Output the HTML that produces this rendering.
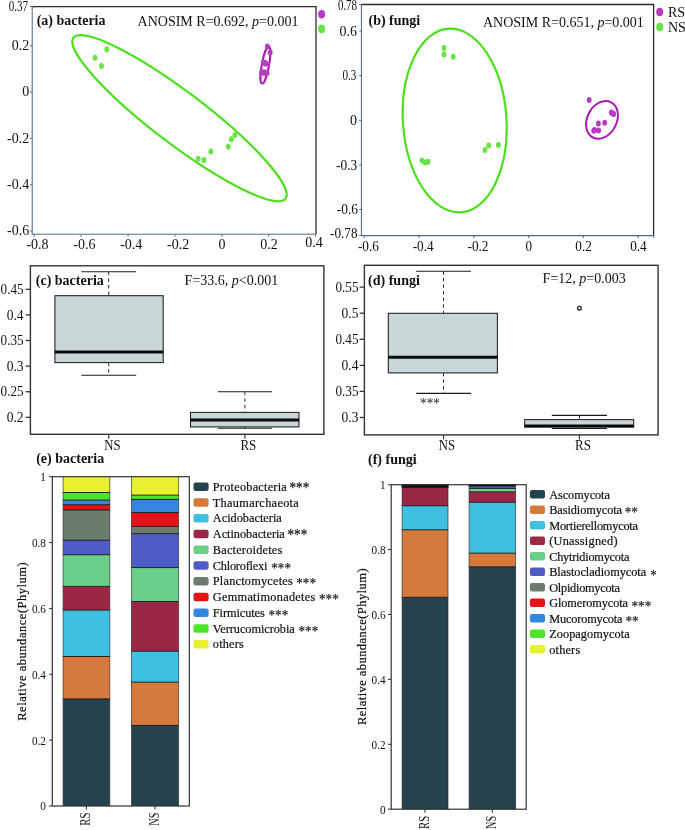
<!DOCTYPE html>
<html lang="en">
<head>
<meta charset="utf-8">
<title>Figure: bacterial and fungal community structure</title>
<style>
html,body{margin:0;padding:0;background:#fff;}
body{width:685px;height:830px;overflow:hidden;}
svg{display:block;font-family:'Liberation Serif', 'DejaVu Serif', serif;}
svg text{font-family:'Liberation Serif', 'DejaVu Serif', serif;}
svg text.hv{stroke:#111;stroke-width:0.2px;}
svg text.md{stroke:#111;stroke-width:0.1px;}
</style>
</head>
<body>
<svg width="685" height="830" viewBox="0 0 685 830">
<rect x="0" y="0" width="685" height="830" fill="#ffffff"/>
<line x1="32.20" y1="6.60" x2="316.60" y2="6.60" stroke="#2b2b2b" stroke-width="1.3" />
<line x1="316.00" y1="6.60" x2="316.00" y2="234.20" stroke="#2b2b2b" stroke-width="1.3" />
<line x1="32.20" y1="6.10" x2="32.20" y2="234.70" stroke="#506a8a" stroke-width="1.05" />
<line x1="32.20" y1="234.20" x2="316.00" y2="234.20" stroke="#506a8a" stroke-width="1.0" />
<line x1="30.00" y1="45.80" x2="32.20" y2="45.80" stroke="#506a8a" stroke-width="1" />
<text x="29.20" y="49.90" font-size="14" text-anchor="end" fill="#111" >0.2</text>
<line x1="30.00" y1="92.10" x2="32.20" y2="92.10" stroke="#506a8a" stroke-width="1" />
<text x="29.20" y="96.20" font-size="14" text-anchor="end" fill="#111" >0</text>
<line x1="30.00" y1="138.40" x2="32.20" y2="138.40" stroke="#506a8a" stroke-width="1" />
<text x="29.20" y="142.50" font-size="14" text-anchor="end" fill="#111" >-0.2</text>
<line x1="30.00" y1="184.70" x2="32.20" y2="184.70" stroke="#506a8a" stroke-width="1" />
<text x="29.20" y="188.80" font-size="14" text-anchor="end" fill="#111" >-0.4</text>
<line x1="30.00" y1="231.00" x2="32.20" y2="231.00" stroke="#506a8a" stroke-width="1" />
<text x="29.20" y="235.10" font-size="14" text-anchor="end" fill="#111" >-0.6</text>
<line x1="30.00" y1="6.60" x2="32.20" y2="6.60" stroke="#506a8a" stroke-width="1" />
<text x="28.20" y="11.00" font-size="14" text-anchor="end" fill="#111" textLength="19.50" lengthAdjust="spacingAndGlyphs" >0.37</text>
<line x1="34.30" y1="234.20" x2="34.30" y2="236.70" stroke="#506a8a" stroke-width="1" />
<text x="37.50" y="248.60" font-size="14" text-anchor="middle" fill="#111" >-0.8</text>
<line x1="81.18" y1="234.20" x2="81.18" y2="236.70" stroke="#506a8a" stroke-width="1" />
<text x="84.38" y="248.60" font-size="14" text-anchor="middle" fill="#111" >-0.6</text>
<line x1="128.06" y1="234.20" x2="128.06" y2="236.70" stroke="#506a8a" stroke-width="1" />
<text x="131.26" y="248.60" font-size="14" text-anchor="middle" fill="#111" >-0.4</text>
<line x1="174.94" y1="234.20" x2="174.94" y2="236.70" stroke="#506a8a" stroke-width="1" />
<text x="178.14" y="248.60" font-size="14" text-anchor="middle" fill="#111" >-0.2</text>
<line x1="221.82" y1="234.20" x2="221.82" y2="236.70" stroke="#506a8a" stroke-width="1" />
<text x="222.12" y="248.60" font-size="14" text-anchor="middle" fill="#111" >0</text>
<line x1="268.70" y1="234.20" x2="268.70" y2="236.70" stroke="#506a8a" stroke-width="1" />
<text x="269.00" y="248.60" font-size="14" text-anchor="middle" fill="#111" >0.2</text>
<line x1="315.58" y1="234.20" x2="315.58" y2="236.70" stroke="#506a8a" stroke-width="1" />
<text x="314.00" y="247.10" font-size="14" text-anchor="middle" fill="#111" >0.4</text>
<text x="36.70" y="25.30" font-size="14" font-weight="bold" fill="#111" >(a) bacteria</text>
<text x="137.6" y="26.1" font-size="14" fill="#111">ANOSIM R=0.692, <tspan font-style="italic">p</tspan>=0.001</text>
<ellipse cx="179.5" cy="118.2" rx="133.1" ry="26.0" transform="rotate(37.2 179.5 118.2)" fill="none" stroke="#4ce01c" stroke-width="2.2"/>
<ellipse cx="95" cy="57.8" rx="2.45" ry="3.0" fill="#69e346"/>
<ellipse cx="106.8" cy="49.5" rx="2.45" ry="3.0" fill="#69e346"/>
<ellipse cx="101.5" cy="66.1" rx="2.45" ry="3.0" fill="#69e346"/>
<ellipse cx="198.2" cy="158.7" rx="2.45" ry="3.0" fill="#69e346"/>
<ellipse cx="204" cy="160" rx="2.45" ry="3.0" fill="#69e346"/>
<ellipse cx="210.9" cy="151.5" rx="2.45" ry="3.0" fill="#69e346"/>
<ellipse cx="228.2" cy="146.7" rx="2.45" ry="3.0" fill="#69e346"/>
<ellipse cx="231.4" cy="139.2" rx="2.45" ry="3.0" fill="#69e346"/>
<ellipse cx="234.9" cy="135.0" rx="2.45" ry="3.0" fill="#69e346"/>
<ellipse cx="265.4" cy="65.1" rx="18.8" ry="3.6" transform="rotate(-79.7 265.4 65.1)" fill="none" stroke="#aa1ab2" stroke-width="2"/>
<ellipse cx="267.4" cy="46.6" rx="2.45" ry="3.0" fill="#b83cc1"/>
<ellipse cx="270.2" cy="52.6" rx="2.45" ry="3.0" fill="#b83cc1"/>
<ellipse cx="263.6" cy="62.4" rx="2.45" ry="3.0" fill="#b83cc1"/>
<ellipse cx="265.8" cy="63.7" rx="2.45" ry="3.0" fill="#b83cc1"/>
<ellipse cx="261.5" cy="72.5" rx="2.45" ry="3.0" fill="#b83cc1"/>
<ellipse cx="264.1" cy="72.9" rx="2.45" ry="3.0" fill="#b83cc1"/>
<ellipse cx="267.1" cy="72.9" rx="2.45" ry="3.0" fill="#b83cc1"/>
<ellipse cx="264.0" cy="72.3" rx="2.45" ry="3.0" fill="#b83cc1"/>
<ellipse cx="265.2" cy="63.0" rx="2.45" ry="3.0" fill="#b83cc1"/>
<ellipse cx="321.6" cy="14.2" rx="3.5" ry="4.3" fill="#b83cc1"/>
<ellipse cx="321.6" cy="28.9" rx="3.5" ry="4.3" fill="#69e346"/>
<line x1="361.40" y1="4.50" x2="654.20" y2="4.50" stroke="#2b2b2b" stroke-width="1.3" />
<line x1="653.60" y1="4.50" x2="653.60" y2="235.60" stroke="#2b2b2b" stroke-width="1.3" />
<line x1="361.40" y1="4.00" x2="361.40" y2="236.10" stroke="#506a8a" stroke-width="1.05" />
<line x1="361.40" y1="235.70" x2="653.60" y2="235.70" stroke="#506a8a" stroke-width="1.2" />
<line x1="359.20" y1="31.02" x2="361.40" y2="31.02" stroke="#506a8a" stroke-width="1" />
<text x="357.10" y="35.62" font-size="14" text-anchor="end" fill="#111" >0.6</text>
<line x1="359.20" y1="75.66" x2="361.40" y2="75.66" stroke="#506a8a" stroke-width="1" />
<text x="356.30" y="80.26" font-size="14" text-anchor="end" fill="#111" textLength="13.90" lengthAdjust="spacingAndGlyphs" >0.3</text>
<line x1="359.20" y1="120.30" x2="361.40" y2="120.30" stroke="#506a8a" stroke-width="1" />
<text x="357.10" y="124.90" font-size="14" text-anchor="end" fill="#111" >0</text>
<line x1="359.20" y1="164.94" x2="361.40" y2="164.94" stroke="#506a8a" stroke-width="1" />
<text x="357.20" y="169.54" font-size="14" text-anchor="end" fill="#111" textLength="21.20" lengthAdjust="spacingAndGlyphs" >-0.3</text>
<line x1="359.20" y1="209.58" x2="361.40" y2="209.58" stroke="#506a8a" stroke-width="1" />
<text x="358.00" y="214.18" font-size="14" text-anchor="end" fill="#111" textLength="21.30" lengthAdjust="spacingAndGlyphs" >-0.6</text>
<line x1="359.20" y1="4.50" x2="361.40" y2="4.50" stroke="#506a8a" stroke-width="1" />
<text x="357.10" y="9.60" font-size="14" text-anchor="end" fill="#111" textLength="19.20" lengthAdjust="spacingAndGlyphs" >0.78</text>
<line x1="359.20" y1="235.60" x2="361.40" y2="235.60" stroke="#506a8a" stroke-width="1" />
<text x="357.50" y="238.30" font-size="14" text-anchor="end" fill="#111" textLength="27.40" lengthAdjust="spacingAndGlyphs" >-0.78</text>
<line x1="364.20" y1="235.60" x2="364.20" y2="238.10" stroke="#506a8a" stroke-width="1" />
<text x="368.40" y="250.50" font-size="14" text-anchor="middle" fill="#111" textLength="21.00" lengthAdjust="spacingAndGlyphs" >-0.6</text>
<line x1="419.00" y1="235.60" x2="419.00" y2="238.10" stroke="#506a8a" stroke-width="1" />
<text x="423.20" y="250.50" font-size="14" text-anchor="middle" fill="#111" textLength="21.00" lengthAdjust="spacingAndGlyphs" >-0.4</text>
<line x1="473.80" y1="235.60" x2="473.80" y2="238.10" stroke="#506a8a" stroke-width="1" />
<text x="478.00" y="250.50" font-size="14" text-anchor="middle" fill="#111" textLength="21.00" lengthAdjust="spacingAndGlyphs" >-0.2</text>
<line x1="528.60" y1="235.60" x2="528.60" y2="238.10" stroke="#506a8a" stroke-width="1" />
<text x="528.80" y="250.50" font-size="14" text-anchor="middle" fill="#111" textLength="6.60" lengthAdjust="spacingAndGlyphs" >0</text>
<line x1="583.40" y1="235.60" x2="583.40" y2="238.10" stroke="#506a8a" stroke-width="1" />
<text x="583.60" y="250.50" font-size="14" text-anchor="middle" fill="#111" textLength="16.50" lengthAdjust="spacingAndGlyphs" >0.2</text>
<line x1="638.20" y1="235.60" x2="638.20" y2="238.10" stroke="#506a8a" stroke-width="1" />
<text x="638.40" y="250.50" font-size="14" text-anchor="middle" fill="#111" textLength="16.50" lengthAdjust="spacingAndGlyphs" >0.4</text>
<line x1="653.60" y1="235.60" x2="653.60" y2="238.10" stroke="#506a8a" stroke-width="1" />
<text x="368.50" y="24.80" font-size="14" font-weight="bold" fill="#111" >(b) fungi</text>
<text x="483" y="27" font-size="14" fill="#111">ANOSIM R=0.651, <tspan font-style="italic">p</tspan>=0.001</text>
<ellipse cx="454.7" cy="120.5" rx="51.8" ry="92" transform="rotate(-3.9 454.7 120.5)" fill="none" stroke="#4ce01c" stroke-width="2.2"/>
<ellipse cx="444" cy="48.1" rx="2.45" ry="3.0" fill="#69e346"/>
<ellipse cx="444" cy="54.4" rx="2.45" ry="3.0" fill="#69e346"/>
<ellipse cx="453.2" cy="56.8" rx="2.45" ry="3.0" fill="#69e346"/>
<ellipse cx="422" cy="160.5" rx="2.45" ry="3.0" fill="#69e346"/>
<ellipse cx="425.1" cy="162.6" rx="2.45" ry="3.0" fill="#69e346"/>
<ellipse cx="428" cy="161.8" rx="2.45" ry="3.0" fill="#69e346"/>
<ellipse cx="485" cy="150" rx="2.45" ry="3.0" fill="#69e346"/>
<ellipse cx="488.7" cy="145.5" rx="2.45" ry="3.0" fill="#69e346"/>
<ellipse cx="498.4" cy="145" rx="2.45" ry="3.0" fill="#69e346"/>
<ellipse cx="602.0" cy="119.9" rx="19.8" ry="14.7" transform="rotate(-62.8 602.0 119.9)" fill="none" stroke="#aa1ab2" stroke-width="2"/>
<ellipse cx="589.2" cy="100.0" rx="2.45" ry="3.0" fill="#b83cc1"/>
<ellipse cx="611.4" cy="112.4" rx="2.45" ry="3.0" fill="#b83cc1"/>
<ellipse cx="613.7" cy="114.1" rx="2.45" ry="3.0" fill="#b83cc1"/>
<ellipse cx="598.4" cy="123.6" rx="2.45" ry="3.0" fill="#b83cc1"/>
<ellipse cx="604.7" cy="122.8" rx="2.45" ry="3.0" fill="#b83cc1"/>
<ellipse cx="593.8" cy="130.7" rx="2.45" ry="3.0" fill="#b83cc1"/>
<ellipse cx="598.6" cy="130.5" rx="2.45" ry="3.0" fill="#b83cc1"/>
<ellipse cx="594.6" cy="130.0" rx="2.45" ry="3.0" fill="#b83cc1"/>
<ellipse cx="612.6" cy="113.4" rx="2.45" ry="3.0" fill="#b83cc1"/>
<ellipse cx="659.7" cy="12.0" rx="3.5" ry="4.3" fill="#b83cc1"/>
<ellipse cx="659.7" cy="27.1" rx="3.5" ry="4.3" fill="#69e346"/>
<text x="667.90" y="17.00" font-size="14" fill="#111" >RS</text>
<text x="667.90" y="31.80" font-size="14" fill="#111" >NS</text>
<rect x="30.4" y="265.8" width="293.50" height="168.50" fill="none" stroke="#333" stroke-width="1.4"/>
<line x1="25.60" y1="289.30" x2="30.40" y2="289.30" stroke="#333" stroke-width="1.3" />
<text x="23.60" y="293.90" font-size="14.2" text-anchor="end" fill="#111" textLength="23.00" lengthAdjust="spacingAndGlyphs" >0.45</text>
<line x1="25.60" y1="314.90" x2="30.40" y2="314.90" stroke="#333" stroke-width="1.3" />
<text x="23.60" y="319.50" font-size="14.2" text-anchor="end" fill="#111" textLength="16.90" lengthAdjust="spacingAndGlyphs" >0.4</text>
<line x1="25.60" y1="340.50" x2="30.40" y2="340.50" stroke="#333" stroke-width="1.3" />
<text x="23.60" y="345.10" font-size="14.2" text-anchor="end" fill="#111" textLength="23.00" lengthAdjust="spacingAndGlyphs" >0.35</text>
<line x1="25.60" y1="366.10" x2="30.40" y2="366.10" stroke="#333" stroke-width="1.3" />
<text x="23.60" y="370.70" font-size="14.2" text-anchor="end" fill="#111" textLength="16.90" lengthAdjust="spacingAndGlyphs" >0.3</text>
<line x1="25.60" y1="391.70" x2="30.40" y2="391.70" stroke="#333" stroke-width="1.3" />
<text x="23.60" y="396.30" font-size="14.2" text-anchor="end" fill="#111" textLength="23.00" lengthAdjust="spacingAndGlyphs" >0.25</text>
<line x1="25.60" y1="417.30" x2="30.40" y2="417.30" stroke="#333" stroke-width="1.3" />
<text x="23.60" y="421.90" font-size="14.2" text-anchor="end" fill="#111" textLength="16.90" lengthAdjust="spacingAndGlyphs" >0.2</text>
<line x1="108.70" y1="271.80" x2="108.70" y2="295.70" stroke="#2b2b2b" stroke-width="1" stroke-dasharray="3.4 3.2"/>
<line x1="108.70" y1="362.60" x2="108.70" y2="375.20" stroke="#2b2b2b" stroke-width="1" stroke-dasharray="3.4 3.2"/>
<line x1="81.30" y1="271.80" x2="136.20" y2="271.80" stroke="#1c1c1c" stroke-width="1.1" />
<line x1="81.30" y1="375.20" x2="136.20" y2="375.20" stroke="#1c1c1c" stroke-width="1.1" />
<rect x="54.9" y="295.7" width="108.30" height="66.90" fill="#c9d6d8" stroke="#1c1c1c" stroke-width="1.05"/>
<line x1="54.90" y1="351.90" x2="163.20" y2="351.90" stroke="#0a0a0a" stroke-width="3" />
<line x1="108.70" y1="434.30" x2="108.70" y2="438.80" stroke="#2b2b2b" stroke-width="1.1" />
<line x1="244.90" y1="391.80" x2="244.90" y2="412.40" stroke="#2b2b2b" stroke-width="1" stroke-dasharray="3.4 3.2"/>
<line x1="244.90" y1="426.90" x2="244.90" y2="428.30" stroke="#2b2b2b" stroke-width="1" stroke-dasharray="3.4 3.2"/>
<line x1="217.80" y1="391.80" x2="272.00" y2="391.80" stroke="#1c1c1c" stroke-width="1.1" />
<line x1="217.80" y1="428.30" x2="272.00" y2="428.30" stroke="#1c1c1c" stroke-width="1.1" />
<rect x="190.5" y="412.4" width="108.50" height="14.50" fill="#c9d6d8" stroke="#1c1c1c" stroke-width="1.05"/>
<line x1="190.50" y1="420.10" x2="299.00" y2="420.10" stroke="#0a0a0a" stroke-width="3" />
<line x1="244.90" y1="434.30" x2="244.90" y2="438.80" stroke="#2b2b2b" stroke-width="1.1" />
<text x="35.80" y="284.90" font-size="14" font-weight="bold" fill="#111" >(c) bacteria</text>
<text x="184.6" y="284.6" font-size="14" fill="#111">F=33.6, <tspan font-style="italic">p</tspan>&lt;0.001</text>
<text x="104.30" y="449.80" font-size="14" fill="#111" textLength="16.30" lengthAdjust="spacingAndGlyphs" >NS</text>
<text x="240.40" y="449.80" font-size="14" fill="#111" textLength="15.90" lengthAdjust="spacingAndGlyphs" >RS</text>
<rect x="364.4" y="265.3" width="293.70" height="169.60" fill="none" stroke="#333" stroke-width="1.4"/>
<line x1="359.60" y1="287.10" x2="364.40" y2="287.10" stroke="#333" stroke-width="1.3" />
<text x="358.50" y="291.70" font-size="14.2" text-anchor="end" fill="#111" textLength="23.00" lengthAdjust="spacingAndGlyphs" >0.55</text>
<line x1="359.60" y1="313.20" x2="364.40" y2="313.20" stroke="#333" stroke-width="1.3" />
<text x="358.50" y="317.80" font-size="14.2" text-anchor="end" fill="#111" textLength="16.90" lengthAdjust="spacingAndGlyphs" >0.5</text>
<line x1="359.60" y1="339.30" x2="364.40" y2="339.30" stroke="#333" stroke-width="1.3" />
<text x="358.50" y="343.90" font-size="14.2" text-anchor="end" fill="#111" textLength="23.00" lengthAdjust="spacingAndGlyphs" >0.45</text>
<line x1="359.60" y1="365.40" x2="364.40" y2="365.40" stroke="#333" stroke-width="1.3" />
<text x="358.50" y="370.00" font-size="14.2" text-anchor="end" fill="#111" textLength="16.90" lengthAdjust="spacingAndGlyphs" >0.4</text>
<line x1="359.60" y1="391.40" x2="364.40" y2="391.40" stroke="#333" stroke-width="1.3" />
<text x="358.50" y="396.00" font-size="14.2" text-anchor="end" fill="#111" textLength="23.00" lengthAdjust="spacingAndGlyphs" >0.35</text>
<line x1="359.60" y1="417.50" x2="364.40" y2="417.50" stroke="#333" stroke-width="1.3" />
<text x="358.50" y="422.10" font-size="14.2" text-anchor="end" fill="#111" textLength="16.90" lengthAdjust="spacingAndGlyphs" >0.3</text>
<line x1="443.50" y1="271.30" x2="443.50" y2="313.30" stroke="#2b2b2b" stroke-width="1" stroke-dasharray="3.4 3.2"/>
<line x1="443.50" y1="372.90" x2="443.50" y2="393.40" stroke="#2b2b2b" stroke-width="1" stroke-dasharray="3.4 3.2"/>
<line x1="416.20" y1="271.30" x2="471.10" y2="271.30" stroke="#1c1c1c" stroke-width="1.1" />
<line x1="416.20" y1="393.40" x2="471.10" y2="393.40" stroke="#1c1c1c" stroke-width="1.1" />
<rect x="388.3" y="313.3" width="109.10" height="59.60" fill="#c9d6d8" stroke="#1c1c1c" stroke-width="1.05"/>
<line x1="388.30" y1="357.20" x2="497.40" y2="357.20" stroke="#0a0a0a" stroke-width="3" />
<line x1="443.50" y1="434.90" x2="443.50" y2="439.40" stroke="#2b2b2b" stroke-width="1.1" />
<line x1="579.40" y1="415.40" x2="579.40" y2="419.60" stroke="#2b2b2b" stroke-width="1" stroke-dasharray="3.4 3.2"/>
<line x1="579.40" y1="427.20" x2="579.40" y2="428.50" stroke="#2b2b2b" stroke-width="1" stroke-dasharray="3.4 3.2"/>
<line x1="551.80" y1="415.40" x2="607.00" y2="415.40" stroke="#1c1c1c" stroke-width="1.1" />
<line x1="551.80" y1="428.50" x2="607.00" y2="428.50" stroke="#1c1c1c" stroke-width="1.1" />
<rect x="524.7" y="419.6" width="109.00" height="7.60" fill="#c9d6d8" stroke="#1c1c1c" stroke-width="1.05"/>
<line x1="524.70" y1="425.70" x2="633.70" y2="425.70" stroke="#0a0a0a" stroke-width="2.5" />
<line x1="579.40" y1="434.90" x2="579.40" y2="439.40" stroke="#2b2b2b" stroke-width="1.1" />
<text x="368.10" y="285.00" font-size="14" font-weight="bold" fill="#111" >(d) fungi</text>
<text x="542.6" y="282.9" font-size="14" fill="#111">F=12, <tspan font-style="italic">p</tspan>=0.003</text>
<text x="438.80" y="450.10" font-size="14" fill="#111" textLength="16.20" lengthAdjust="spacingAndGlyphs" >NS</text>
<text x="575.00" y="450.10" font-size="14" fill="#111" textLength="15.90" lengthAdjust="spacingAndGlyphs" >RS</text>
<circle cx="579.4" cy="308.3" r="1.9" fill="none" stroke="#1c1c1c" stroke-width="1.25"/>
<text x="420.10" y="407.50" font-size="14" fill="#111" textLength="19.70" lengthAdjust="spacingAndGlyphs" >***</text>
<rect x="63.1" y="698.98" width="46.70" height="107.02" fill="#25434f"/>
<rect x="63.1" y="656.50" width="46.70" height="42.48" fill="#d5793d"/>
<rect x="63.1" y="610.07" width="46.70" height="46.43" fill="#3ec1e0"/>
<rect x="63.1" y="586.36" width="46.70" height="23.71" fill="#9b2747"/>
<rect x="63.1" y="554.74" width="46.70" height="31.61" fill="#6bcf8a"/>
<rect x="63.1" y="540.25" width="46.70" height="14.49" fill="#4f5bc6"/>
<rect x="63.1" y="509.96" width="46.70" height="30.30" fill="#6b7b6c"/>
<rect x="63.1" y="504.69" width="46.70" height="5.27" fill="#e41318"/>
<rect x="63.1" y="500.08" width="46.70" height="4.61" fill="#3586de"/>
<rect x="63.1" y="492.51" width="46.70" height="7.57" fill="#4be428"/>
<rect x="63.1" y="476.70" width="46.70" height="15.81" fill="#e9f02f"/>
<line x1="62.80" y1="698.98" x2="110.10" y2="698.98" stroke="#121212" stroke-width="0.9" />
<line x1="62.80" y1="656.50" x2="110.10" y2="656.50" stroke="#121212" stroke-width="0.9" />
<line x1="62.80" y1="610.07" x2="110.10" y2="610.07" stroke="#121212" stroke-width="0.9" />
<line x1="62.80" y1="586.36" x2="110.10" y2="586.36" stroke="#121212" stroke-width="0.9" />
<line x1="62.80" y1="554.74" x2="110.10" y2="554.74" stroke="#121212" stroke-width="0.9" />
<line x1="62.80" y1="540.25" x2="110.10" y2="540.25" stroke="#121212" stroke-width="0.9" />
<line x1="62.80" y1="509.96" x2="110.10" y2="509.96" stroke="#121212" stroke-width="0.9" />
<line x1="62.80" y1="504.69" x2="110.10" y2="504.69" stroke="#121212" stroke-width="0.9" />
<line x1="62.80" y1="500.08" x2="110.10" y2="500.08" stroke="#121212" stroke-width="0.9" />
<line x1="62.80" y1="492.51" x2="110.10" y2="492.51" stroke="#121212" stroke-width="0.9" />
<line x1="63.10" y1="476.70" x2="63.10" y2="806.00" stroke="#2a2a2a" stroke-width="0.65" />
<line x1="109.80" y1="476.70" x2="109.80" y2="806.00" stroke="#2a2a2a" stroke-width="0.65" />
<rect x="131.5" y="725.45" width="47.10" height="80.55" fill="#25434f"/>
<rect x="131.5" y="682.18" width="47.10" height="43.27" fill="#d5793d"/>
<rect x="131.5" y="651.23" width="47.10" height="30.95" fill="#3ec1e0"/>
<rect x="131.5" y="601.50" width="47.10" height="49.72" fill="#9b2747"/>
<rect x="131.5" y="567.59" width="47.10" height="33.92" fill="#6bcf8a"/>
<rect x="131.5" y="533.67" width="47.10" height="33.92" fill="#4f5bc6"/>
<rect x="131.5" y="526.42" width="47.10" height="7.24" fill="#6b7b6c"/>
<rect x="131.5" y="512.59" width="47.10" height="13.83" fill="#e41318"/>
<rect x="131.5" y="499.42" width="47.10" height="13.17" fill="#3586de"/>
<rect x="131.5" y="495.14" width="47.10" height="4.28" fill="#4be428"/>
<rect x="131.5" y="476.70" width="47.10" height="18.44" fill="#e9f02f"/>
<line x1="131.20" y1="725.45" x2="178.90" y2="725.45" stroke="#121212" stroke-width="0.9" />
<line x1="131.20" y1="682.18" x2="178.90" y2="682.18" stroke="#121212" stroke-width="0.9" />
<line x1="131.20" y1="651.23" x2="178.90" y2="651.23" stroke="#121212" stroke-width="0.9" />
<line x1="131.20" y1="601.50" x2="178.90" y2="601.50" stroke="#121212" stroke-width="0.9" />
<line x1="131.20" y1="567.59" x2="178.90" y2="567.59" stroke="#121212" stroke-width="0.9" />
<line x1="131.20" y1="533.67" x2="178.90" y2="533.67" stroke="#121212" stroke-width="0.9" />
<line x1="131.20" y1="526.42" x2="178.90" y2="526.42" stroke="#121212" stroke-width="0.9" />
<line x1="131.20" y1="512.59" x2="178.90" y2="512.59" stroke="#121212" stroke-width="0.9" />
<line x1="131.20" y1="499.42" x2="178.90" y2="499.42" stroke="#121212" stroke-width="0.9" />
<line x1="131.20" y1="495.14" x2="178.90" y2="495.14" stroke="#121212" stroke-width="0.9" />
<line x1="131.50" y1="476.70" x2="131.50" y2="806.00" stroke="#2a2a2a" stroke-width="0.65" />
<line x1="178.60" y1="476.70" x2="178.60" y2="806.00" stroke="#2a2a2a" stroke-width="0.65" />
<rect x="52.3" y="476.7" width="137.00" height="329.30" fill="none" stroke="#2b2b2b" stroke-width="1.15"/>
<line x1="49.10" y1="806.00" x2="52.30" y2="806.00" stroke="#2b2b2b" stroke-width="1" />
<text x="45.90" y="810.40" font-size="13.5" text-anchor="end" fill="#111" textLength="5.60" lengthAdjust="spacingAndGlyphs" >0</text>
<line x1="49.10" y1="740.14" x2="52.30" y2="740.14" stroke="#2b2b2b" stroke-width="1" />
<text x="45.90" y="744.54" font-size="13.5" text-anchor="end" fill="#111" textLength="14.00" lengthAdjust="spacingAndGlyphs" >0.2</text>
<line x1="49.10" y1="674.28" x2="52.30" y2="674.28" stroke="#2b2b2b" stroke-width="1" />
<text x="45.90" y="678.68" font-size="13.5" text-anchor="end" fill="#111" textLength="14.00" lengthAdjust="spacingAndGlyphs" >0.4</text>
<line x1="49.10" y1="608.42" x2="52.30" y2="608.42" stroke="#2b2b2b" stroke-width="1" />
<text x="45.90" y="612.82" font-size="13.5" text-anchor="end" fill="#111" textLength="14.00" lengthAdjust="spacingAndGlyphs" >0.6</text>
<line x1="49.10" y1="542.56" x2="52.30" y2="542.56" stroke="#2b2b2b" stroke-width="1" />
<text x="45.90" y="546.96" font-size="13.5" text-anchor="end" fill="#111" textLength="14.00" lengthAdjust="spacingAndGlyphs" >0.8</text>
<line x1="49.10" y1="476.70" x2="52.30" y2="476.70" stroke="#2b2b2b" stroke-width="1" />
<text x="45.90" y="481.10" font-size="13.5" text-anchor="end" fill="#111" textLength="5.60" lengthAdjust="spacingAndGlyphs" >1</text>
<text x="36.20" y="462.70" font-size="14" font-weight="bold" fill="#111" >(e) bacteria</text>
<text x="25.7" y="641.5" font-size="12.5" fill="#111" class="hv" text-anchor="middle" textLength="158.5" lengthAdjust="spacing" transform="rotate(-90 25.7 641.5)">Relative abundance(Phylum)</text>
<rect x="193.5" y="482.50" width="15.1" height="8.4" rx="2.2" ry="2.2" fill="#25434f"/>
<text x="212.80" y="490.80" font-size="12.3" fill="#111" class="hv" textLength="74" lengthAdjust="spacing">Proteobacteria</text>
<text x="289.5" y="492.97" font-size="16.7" fill="#111" class="hv" textLength="19.7" lengthAdjust="spacingAndGlyphs">***</text>
<rect x="193.5" y="498.26" width="15.1" height="8.4" rx="2.2" ry="2.2" fill="#d5793d"/>
<text x="212.80" y="506.56" font-size="12.3" fill="#111" class="hv" textLength="86" lengthAdjust="spacing">Thaumarchaeota</text>
<rect x="193.5" y="514.02" width="15.1" height="8.4" rx="2.2" ry="2.2" fill="#3ec1e0"/>
<text x="212.80" y="522.32" font-size="12.3" fill="#111" class="hv" textLength="69" lengthAdjust="spacing">Acidobacteria</text>
<rect x="193.5" y="529.78" width="15.1" height="8.4" rx="2.2" ry="2.2" fill="#9b2747"/>
<text x="212.80" y="538.08" font-size="12.3" fill="#111" class="hv" textLength="72" lengthAdjust="spacing">Actinobacteria</text>
<text x="287.5" y="540.25" font-size="16.7" fill="#111" class="hv" textLength="19.7" lengthAdjust="spacingAndGlyphs">***</text>
<rect x="193.5" y="545.54" width="15.1" height="8.4" rx="2.2" ry="2.2" fill="#6bcf8a"/>
<text x="212.80" y="553.84" font-size="12.3" fill="#111" class="hv" textLength="69.5" lengthAdjust="spacing">Bacteroidetes</text>
<rect x="193.5" y="561.30" width="15.1" height="8.4" rx="2.2" ry="2.2" fill="#4f5bc6"/>
<text x="212.80" y="569.60" font-size="12.3" fill="#111" class="hv" textLength="54.5" lengthAdjust="spacing">Chloroflexi</text>
<text x="271.3" y="572.50" font-size="15" fill="#111" class="hv" textLength="19.7" lengthAdjust="spacingAndGlyphs">***</text>
<rect x="193.5" y="577.06" width="15.1" height="8.4" rx="2.2" ry="2.2" fill="#6b7b6c"/>
<text x="212.80" y="585.36" font-size="12.3" fill="#111" class="hv" textLength="80" lengthAdjust="spacing">Planctomycetes</text>
<text x="296.3" y="588.26" font-size="15" fill="#111" class="hv" textLength="19.7" lengthAdjust="spacingAndGlyphs">***</text>
<rect x="193.5" y="592.82" width="15.1" height="8.4" rx="2.2" ry="2.2" fill="#e41318"/>
<text x="212.80" y="601.12" font-size="12.3" fill="#111" class="hv" textLength="102.5" lengthAdjust="spacing">Gemmatimonadetes</text>
<text x="319.0" y="604.02" font-size="15" fill="#111" class="hv" textLength="19.7" lengthAdjust="spacingAndGlyphs">***</text>
<rect x="193.5" y="608.58" width="15.1" height="8.4" rx="2.2" ry="2.2" fill="#3586de"/>
<text x="212.80" y="616.88" font-size="12.3" fill="#111" class="hv" textLength="52" lengthAdjust="spacing">Firmicutes</text>
<text x="268.5" y="619.78" font-size="15" fill="#111" class="hv" textLength="19.7" lengthAdjust="spacingAndGlyphs">***</text>
<rect x="193.5" y="624.34" width="15.1" height="8.4" rx="2.2" ry="2.2" fill="#4be428"/>
<text x="212.80" y="632.64" font-size="12.3" fill="#111" class="hv" textLength="82" lengthAdjust="spacing">Verrucomicrobia</text>
<text x="298.5" y="635.54" font-size="15" fill="#111" class="hv" textLength="19.7" lengthAdjust="spacingAndGlyphs">***</text>
<rect x="193.5" y="640.10" width="15.1" height="8.4" rx="2.2" ry="2.2" fill="#e9f02f"/>
<text x="212.80" y="648.40" font-size="12.3" fill="#111" class="hv" textLength="31" lengthAdjust="spacing">others</text>
<line x1="86.40" y1="806.00" x2="86.40" y2="809.60" stroke="#2b2b2b" stroke-width="1" />
<text x="90.00" y="825.70" font-size="13.9" fill="#111" textLength="13.1" lengthAdjust="spacingAndGlyphs" transform="rotate(-90 90.00 825.70)">RS</text>
<line x1="155.00" y1="806.00" x2="155.00" y2="809.60" stroke="#2b2b2b" stroke-width="1" />
<text x="158.60" y="825.70" font-size="13.9" fill="#111" textLength="13.1" lengthAdjust="spacingAndGlyphs" transform="rotate(-90 158.60 825.70)">NS</text>
<rect x="402.1" y="597.30" width="45.90" height="211.90" fill="#25434f"/>
<rect x="402.1" y="529.81" width="45.90" height="67.50" fill="#d5793d"/>
<rect x="402.1" y="505.79" width="45.90" height="24.01" fill="#3ec1e0"/>
<rect x="402.1" y="487.46" width="45.90" height="18.33" fill="#9b2747"/>
<rect x="402.1" y="486.97" width="45.90" height="0.49" fill="#6bcf8a"/>
<rect x="402.1" y="486.65" width="45.90" height="0.32" fill="#4f5bc6"/>
<rect x="402.1" y="486.32" width="45.90" height="0.32" fill="#6b7b6c"/>
<rect x="402.1" y="485.67" width="45.90" height="0.65" fill="#e41318"/>
<rect x="402.1" y="485.35" width="45.90" height="0.32" fill="#3586de"/>
<rect x="402.1" y="485.02" width="45.90" height="0.32" fill="#4be428"/>
<rect x="402.1" y="484.70" width="45.90" height="0.32" fill="#e9f02f"/>
<line x1="401.80" y1="597.30" x2="448.30" y2="597.30" stroke="#121212" stroke-width="0.9" />
<line x1="401.80" y1="529.81" x2="448.30" y2="529.81" stroke="#121212" stroke-width="0.9" />
<line x1="401.80" y1="505.79" x2="448.30" y2="505.79" stroke="#121212" stroke-width="0.9" />
<line x1="401.80" y1="487.46" x2="448.30" y2="487.46" stroke="#121212" stroke-width="0.9" />
<line x1="401.80" y1="486.97" x2="448.30" y2="486.97" stroke="#121212" stroke-width="0.9" />
<line x1="401.80" y1="486.65" x2="448.30" y2="486.65" stroke="#121212" stroke-width="0.9" />
<line x1="401.80" y1="486.32" x2="448.30" y2="486.32" stroke="#121212" stroke-width="0.9" />
<line x1="401.80" y1="485.67" x2="448.30" y2="485.67" stroke="#121212" stroke-width="0.9" />
<line x1="401.80" y1="485.35" x2="448.30" y2="485.35" stroke="#121212" stroke-width="0.9" />
<line x1="401.80" y1="485.02" x2="448.30" y2="485.02" stroke="#121212" stroke-width="0.9" />
<line x1="402.10" y1="484.70" x2="402.10" y2="809.20" stroke="#2a2a2a" stroke-width="0.65" />
<line x1="448.00" y1="484.70" x2="448.00" y2="809.20" stroke="#2a2a2a" stroke-width="0.65" />
<rect x="469.1" y="566.80" width="46.50" height="242.40" fill="#25434f"/>
<rect x="469.1" y="553.17" width="46.50" height="13.63" fill="#d5793d"/>
<rect x="469.1" y="502.22" width="46.50" height="50.95" fill="#3ec1e0"/>
<rect x="469.1" y="491.84" width="46.50" height="10.38" fill="#9b2747"/>
<rect x="469.1" y="488.43" width="46.50" height="3.41" fill="#6bcf8a"/>
<rect x="469.1" y="485.84" width="46.50" height="2.60" fill="#4f5bc6"/>
<rect x="469.1" y="485.67" width="46.50" height="0.16" fill="#6b7b6c"/>
<rect x="469.1" y="485.35" width="46.50" height="0.32" fill="#e41318"/>
<rect x="469.1" y="485.19" width="46.50" height="0.16" fill="#3586de"/>
<rect x="469.1" y="485.02" width="46.50" height="0.16" fill="#4be428"/>
<rect x="469.1" y="484.70" width="46.50" height="0.32" fill="#e9f02f"/>
<line x1="468.80" y1="566.80" x2="515.90" y2="566.80" stroke="#121212" stroke-width="0.9" />
<line x1="468.80" y1="553.17" x2="515.90" y2="553.17" stroke="#121212" stroke-width="0.9" />
<line x1="468.80" y1="502.22" x2="515.90" y2="502.22" stroke="#121212" stroke-width="0.9" />
<line x1="468.80" y1="491.84" x2="515.90" y2="491.84" stroke="#121212" stroke-width="0.9" />
<line x1="468.80" y1="488.43" x2="515.90" y2="488.43" stroke="#121212" stroke-width="0.9" />
<line x1="468.80" y1="485.84" x2="515.90" y2="485.84" stroke="#121212" stroke-width="0.9" />
<line x1="468.80" y1="485.67" x2="515.90" y2="485.67" stroke="#121212" stroke-width="0.9" />
<line x1="468.80" y1="485.35" x2="515.90" y2="485.35" stroke="#121212" stroke-width="0.9" />
<line x1="468.80" y1="485.19" x2="515.90" y2="485.19" stroke="#121212" stroke-width="0.9" />
<line x1="468.80" y1="485.02" x2="515.90" y2="485.02" stroke="#121212" stroke-width="0.9" />
<line x1="469.10" y1="484.70" x2="469.10" y2="809.20" stroke="#2a2a2a" stroke-width="0.65" />
<line x1="515.60" y1="484.70" x2="515.60" y2="809.20" stroke="#2a2a2a" stroke-width="0.65" />
<rect x="391.2" y="484.7" width="135.00" height="324.50" fill="none" stroke="#2b2b2b" stroke-width="1.15"/>
<line x1="388.00" y1="809.20" x2="391.20" y2="809.20" stroke="#2b2b2b" stroke-width="1" />
<text x="385.60" y="813.60" font-size="13.5" text-anchor="end" fill="#111" textLength="5.60" lengthAdjust="spacingAndGlyphs" >0</text>
<line x1="388.00" y1="744.30" x2="391.20" y2="744.30" stroke="#2b2b2b" stroke-width="1" />
<text x="385.60" y="748.70" font-size="13.5" text-anchor="end" fill="#111" textLength="14.00" lengthAdjust="spacingAndGlyphs" >0.2</text>
<line x1="388.00" y1="679.40" x2="391.20" y2="679.40" stroke="#2b2b2b" stroke-width="1" />
<text x="385.60" y="683.80" font-size="13.5" text-anchor="end" fill="#111" textLength="14.00" lengthAdjust="spacingAndGlyphs" >0.4</text>
<line x1="388.00" y1="614.50" x2="391.20" y2="614.50" stroke="#2b2b2b" stroke-width="1" />
<text x="385.60" y="618.90" font-size="13.5" text-anchor="end" fill="#111" textLength="14.00" lengthAdjust="spacingAndGlyphs" >0.6</text>
<line x1="388.00" y1="549.60" x2="391.20" y2="549.60" stroke="#2b2b2b" stroke-width="1" />
<text x="385.60" y="554.00" font-size="13.5" text-anchor="end" fill="#111" textLength="14.00" lengthAdjust="spacingAndGlyphs" >0.8</text>
<line x1="388.00" y1="484.70" x2="391.20" y2="484.70" stroke="#2b2b2b" stroke-width="1" />
<text x="385.60" y="489.10" font-size="13.5" text-anchor="end" fill="#111" textLength="5.60" lengthAdjust="spacingAndGlyphs" >1</text>
<text x="368.00" y="463.50" font-size="14" font-weight="bold" fill="#111" >(f) fungi</text>
<text x="366.5" y="646.7" font-size="12.5" fill="#111" class="hv" text-anchor="middle" textLength="156.5" lengthAdjust="spacing" transform="rotate(-90 366.5 646.7)">Relative abundance(Phylum)</text>
<rect x="529.9" y="490.10" width="15.1" height="8.4" rx="2.2" ry="2.2" fill="#25434f"/>
<text x="549.20" y="498.65" font-size="12.3" fill="#111" class="hv" textLength="60.7" lengthAdjust="spacing">Ascomycota</text>
<rect x="529.9" y="505.60" width="15.1" height="8.4" rx="2.2" ry="2.2" fill="#d5793d"/>
<text x="549.20" y="514.15" font-size="12.3" fill="#111" class="hv" textLength="72.8" lengthAdjust="spacing">Basidiomycota</text>
<text x="624.7" y="517.10" font-size="15" fill="#111" class="hv" textLength="13.2" lengthAdjust="spacingAndGlyphs">**</text>
<rect x="529.9" y="521.10" width="15.1" height="8.4" rx="2.2" ry="2.2" fill="#3ec1e0"/>
<text x="549.20" y="529.65" font-size="12.3" fill="#111" class="hv" textLength="88.8" lengthAdjust="spacing">Mortierellomycota</text>
<rect x="529.9" y="536.60" width="15.1" height="8.4" rx="2.2" ry="2.2" fill="#9b2747"/>
<text x="549.20" y="545.15" font-size="12.3" fill="#111" class="hv" textLength="68.3" lengthAdjust="spacing">(Unassigned)</text>
<rect x="529.9" y="552.10" width="15.1" height="8.4" rx="2.2" ry="2.2" fill="#6bcf8a"/>
<text x="549.20" y="560.65" font-size="12.3" fill="#111" class="hv" textLength="80.2" lengthAdjust="spacing">Chytridiomycota</text>
<rect x="529.9" y="567.60" width="15.1" height="8.4" rx="2.2" ry="2.2" fill="#4f5bc6"/>
<text x="549.20" y="576.15" font-size="12.3" fill="#111" class="hv" textLength="97" lengthAdjust="spacing">Blastocladiomycota</text>
<text x="650.6" y="579.90" font-size="15" fill="#111" class="hv" textLength="6" lengthAdjust="spacingAndGlyphs">*</text>
<rect x="529.9" y="583.10" width="15.1" height="8.4" rx="2.2" ry="2.2" fill="#6b7b6c"/>
<text x="549.20" y="591.65" font-size="12.3" fill="#111" class="hv" textLength="70.8" lengthAdjust="spacing">Olpidiomycota</text>
<rect x="529.9" y="598.60" width="15.1" height="8.4" rx="2.2" ry="2.2" fill="#e41318"/>
<text x="549.20" y="607.15" font-size="12.3" fill="#111" class="hv" textLength="78.8" lengthAdjust="spacing">Glomeromycota</text>
<text x="631.5" y="610.90" font-size="15" fill="#111" class="hv" textLength="19.7" lengthAdjust="spacingAndGlyphs">***</text>
<rect x="529.9" y="614.10" width="15.1" height="8.4" rx="2.2" ry="2.2" fill="#3586de"/>
<text x="549.20" y="622.65" font-size="12.3" fill="#111" class="hv" textLength="73.3" lengthAdjust="spacing">Mucoromycota</text>
<text x="625.5" y="626.40" font-size="15" fill="#111" class="hv" textLength="13.2" lengthAdjust="spacingAndGlyphs">**</text>
<rect x="529.9" y="629.60" width="15.1" height="8.4" rx="2.2" ry="2.2" fill="#4be428"/>
<text x="549.20" y="638.15" font-size="12.3" fill="#111" class="hv" textLength="80.5" lengthAdjust="spacing">Zoopagomycota</text>
<rect x="529.9" y="645.10" width="15.1" height="8.4" rx="2.2" ry="2.2" fill="#e9f02f"/>
<text x="549.20" y="653.65" font-size="12.3" fill="#111" class="hv" textLength="31" lengthAdjust="spacing">others</text>
<line x1="425.00" y1="809.20" x2="425.00" y2="812.80" stroke="#2b2b2b" stroke-width="1" />
<text x="428.60" y="828.90" font-size="13.9" fill="#111" textLength="13.1" lengthAdjust="spacingAndGlyphs" transform="rotate(-90 428.60 828.90)">RS</text>
<line x1="492.30" y1="809.20" x2="492.30" y2="812.80" stroke="#2b2b2b" stroke-width="1" />
<text x="495.90" y="828.90" font-size="13.9" fill="#111" textLength="13.1" lengthAdjust="spacingAndGlyphs" transform="rotate(-90 495.90 828.90)">NS</text>
</svg>
</body>
</html>
